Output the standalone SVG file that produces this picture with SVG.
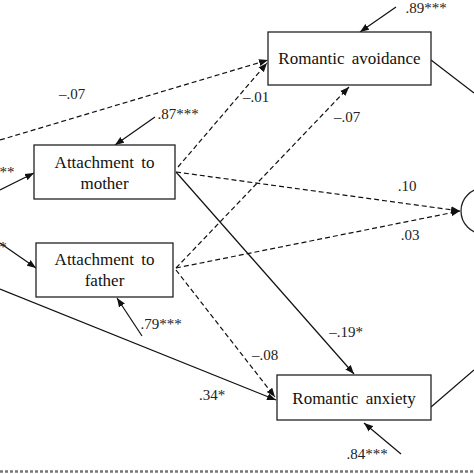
<svg xmlns="http://www.w3.org/2000/svg" width="474" height="474" viewBox="0 0 474 474">
<defs>
<marker id="ah" markerUnits="userSpaceOnUse" markerWidth="10" markerHeight="8" refX="9" refY="4" orient="auto">
<path d="M0,0.5 L9,4 L0,7.5 Z" fill="#111"/>
</marker>
<style>
.box{fill:#fff;stroke:#222;stroke-width:1.3}
.lbl{font-family:"Liberation Serif","Times New Roman",serif;font-size:17px;fill:#111;text-anchor:middle;word-spacing:3px}
.coef{font-family:"Liberation Serif","Times New Roman",serif;font-size:15px;fill:#222;text-anchor:middle}
.s{fill:none;stroke:#111;stroke-width:1.2}
.d{fill:none;stroke:#111;stroke-width:1.2;stroke-dasharray:5 3}
.a{marker-end:url(#ah)}
</style>
</defs>
<rect width="474" height="474" fill="#fff"/>
<g id="connectors">
<path class="d a" d="M0,140 L268,60"/>
<path class="d a" d="M178,167 L267,63"/>
<path class="d a" d="M176,268 L349,87"/>
<path class="d a" d="M176,172 L460,211"/>
<path class="d a" d="M176,268 L460,211"/>
<path class="s a" d="M176,172 L354,374"/>
<path class="d a" d="M176,270 L275,397"/>
<path class="s a" d="M0,289 L276,400"/>
<path class="s a" d="M155,117 L115,145"/>
<path class="s a" d="M396,7 L360,32"/>
<path class="s a" d="M142,336 L117,298"/>
<path class="s a" d="M401,454 L364,423"/>
<path class="s a" d="M0,190 L34,173"/>
<path class="s a" d="M0,243 L36,268"/>
<path class="s" d="M431,60 L474,93"/>
<path class="s" d="M431,407 L474,370"/>
</g>
<g id="labels">
<text class="coef" x="72" y="99">–.07</text>
<text class="coef" x="256" y="102">–.01</text>
<text class="coef" x="347" y="122">–.07</text>
<text class="coef" x="407" y="191">.10</text>
<text class="coef" x="410" y="240">.03</text>
<text class="coef" x="346" y="337">–.19*</text>
<text class="coef" x="265" y="360">–.08</text>
<text class="coef" x="212" y="400">.34*</text>
<text class="coef" x="178" y="119">.87***</text>
<text class="coef" x="426" y="13">.89***</text>
<text class="coef" x="7" y="177">**</text>
<text class="coef" x="3" y="252">*</text>
<text class="coef" x="161" y="329">.79***</text>
<text class="coef" x="367" y="459">.84***</text>
</g>
<g id="romantic-avoidance">
<rect class="box" x="268" y="32" width="163" height="53"/>
<text class="lbl" x="349.5" y="64">Romantic avoidance</text>
</g>
<g id="attachment-mother">
<rect class="box" x="34" y="145" width="141" height="54"/>
<text class="lbl" x="104.5" y="168">Attachment to</text>
<text class="lbl" x="104.5" y="189">mother</text>
</g>
<g id="attachment-father">
<rect class="box" x="36" y="243" width="137" height="54"/>
<text class="lbl" x="104.5" y="265">Attachment to</text>
<text class="lbl" x="104.5" y="286">father</text>
</g>
<g id="romantic-anxiety">
<rect class="box" x="277" y="375" width="154" height="45"/>
<text class="lbl" x="354" y="404">Romantic anxiety</text>
</g>
<g id="outcome">
<circle cx="484" cy="211" r="23" fill="#fff" stroke="#222" stroke-width="1.3"/>
</g>
<line x1="0" y1="471.5" x2="474" y2="471.5" stroke="#777" stroke-width="2.5" stroke-dasharray="3 2"/>
</svg>
